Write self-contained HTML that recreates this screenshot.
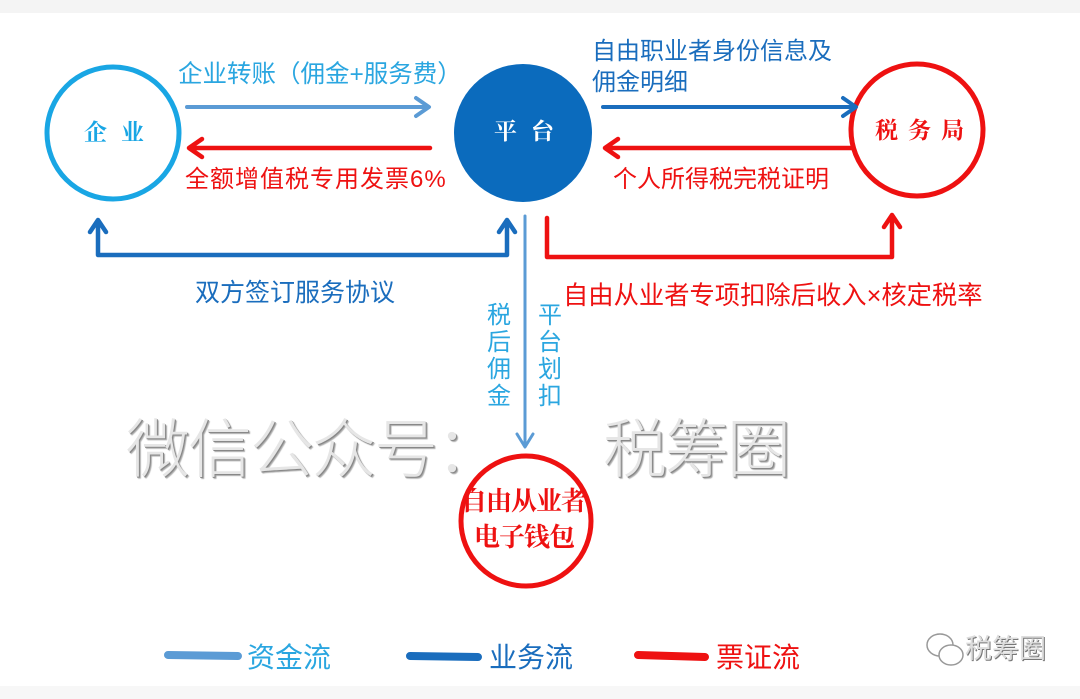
<!DOCTYPE html>
<html><head><meta charset="utf-8"><style>
html,body{margin:0;padding:0;background:#fff;}
body{width:1080px;height:699px;overflow:hidden;position:relative;font-family:"Liberation Sans","Noto Sans CJK SC",sans-serif;}
.t{position:absolute;white-space:nowrap;font-size:24px;line-height:1;font-weight:400;}
.v{position:absolute;font-size:24px;line-height:27px;width:26px;text-align:center;color:#2aa6e0;}
.wm{position:absolute;font-size:64px;line-height:1;color:#e6e6e6;text-shadow:1px 1px 0 #888,2px 2px 1px #aaa;font-weight:300;}
.n{font-family:'Liberation Serif','Noto Serif CJK SC',serif;font-weight:bold;}
</style></head><body>
<div style="position:absolute;left:0;top:0;width:1080px;height:13px;background:#f4f4f4"></div>
<div style="position:absolute;left:0;top:686px;width:1080px;height:13px;background:#f7f7f7"></div>
<svg width="1080" height="699" style="position:absolute;left:0;top:0">
<circle cx="113" cy="133" r="66" fill="none" stroke="#19a6e4" stroke-width="5"/>
<circle cx="523" cy="133" r="69" fill="#0b6bbd"/>
<circle cx="917" cy="130" r="66" fill="none" stroke="#ee1111" stroke-width="5"/>
<circle cx="526" cy="521" r="65" fill="none" stroke="#ee1111" stroke-width="5"/>
<g fill="none" stroke-linecap="round" stroke-linejoin="round">
<path d="M187 107H428M416 98L429 107L416 116" stroke="#5b9bd5" stroke-width="4"/>
<path d="M430 148H190M202 139L189 148L202 157" stroke="#ee1111" stroke-width="4.5"/>
<path d="M603 107H855M843 98L856 107L843 116" stroke="#1a6dbd" stroke-width="4"/>
<path d="M852 148H606M618 139L605 148L618 157" stroke="#ee1111" stroke-width="4.5"/>
<path d="M98 222V255H507V220M90 232L98 220L106 232M499 232L507 220L515 232" stroke="#1a6dbd" stroke-width="4.5"/>
<path d="M547 218V257H892V215M884 227L892 215L900 227" stroke="#ee1111" stroke-width="4.5"/>
<path d="M525 216V446M517 434L525 447L533 434" stroke="#5b9bd5" stroke-width="3"/>
<path d="M168 655L238 656" stroke="#5b9bd5" stroke-width="8"/>
<path d="M410 656L478 657" stroke="#1a6dbd" stroke-width="8"/>
<path d="M638 655L705 657" stroke="#ee1111" stroke-width="8"/>
</g>
<g fill="none" stroke="#999" stroke-width="1.5">
<ellipse cx="940" cy="645" rx="13" ry="11"/><ellipse cx="951" cy="655" rx="12" ry="10" fill="#fff"/>
</g>
</svg>
<div class="t n" style="left:84px;top:121px;color:#19a6e4;letter-spacing:14px;font-size:23px">企业</div>
<div class="t n" style="left:494px;top:120px;color:#fff;letter-spacing:14px;font-size:23px">平台</div>
<div class="t n" style="left:875px;top:119px;color:#ee1111;letter-spacing:10px;font-size:23px">税务局</div>
<div class="t n" style="left:461px;top:489px;color:#ee1111;font-size:26px;letter-spacing:-1px">自由从业者</div>
<div class="t n" style="left:474px;top:525px;color:#ee1111;font-size:26px;letter-spacing:-1px">电子钱包</div>
<div class="t" style="left:178px;top:63px;color:#2aa6e0;font-size:24.5px">企业转账（佣金+服务费）</div>
<div class="t" style="left:185px;top:168px;color:#ee1111;letter-spacing:1px">全额增值税专用发票6%</div>
<div class="t" style="left:592px;top:40px;color:#1a6dbd">自由职业者身份信息及</div>
<div class="t" style="left:592px;top:71px;color:#1a6dbd">佣金明细</div>
<div class="t" style="left:613px;top:168px;color:#ee1111">个人所得税完税证明</div>
<div class="t" style="left:195px;top:281px;color:#1a6dbd;font-size:25px">双方签订服务协议</div>
<div class="t" style="left:563px;top:284px;color:#ee1111;font-size:25.3px">自由从业者专项扣除后收入×核定税率</div>
<div class="v" style="left:486px;top:302px">税后佣金</div>
<div class="v" style="left:537px;top:302px">平台划扣</div>
<div class="wm" style="left:126px;top:418px;letter-spacing:-2px">微信公众号：</div>
<div class="wm" style="left:603px;top:418px;letter-spacing:-2px">税筹圈</div>
<div class="t" style="left:247px;top:644px;color:#2aa6e0;font-size:28px">资金流</div>
<div class="t" style="left:489px;top:644px;color:#1a6dbd;font-size:28px">业务流</div>
<div class="t" style="left:716px;top:644px;color:#ee1111;font-size:28px">票证流</div>
<div class="t" style="left:965px;top:636px;color:#ddd;font-size:27px;text-shadow:1px 1px 0 #777">税筹圈</div>
</body></html>
